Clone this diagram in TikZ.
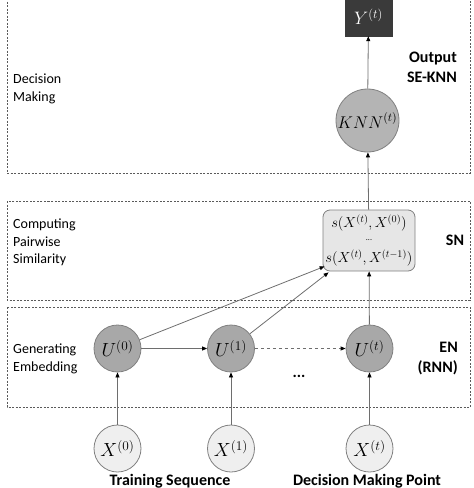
\RequirePackage{fix-cm}
\documentclass[tikz,border=0pt]{standalone}
\usepackage{fontspec}
\setmainfont{Carlito}
\usetikzlibrary{arrows.meta,calc}
\definecolor{linegray}{HTML}{6E6E6E}
\definecolor{boxgray}{HTML}{5A5A5A}
\definecolor{ufill}{HTML}{A8A8A8}
\definecolor{knnfill}{HTML}{B4B4B4}
\definecolor{xfill}{HTML}{EFEFEF}
\definecolor{snfill}{HTML}{E6E6E6}
\definecolor{ydark}{HTML}{3A3A3A}
\definecolor{circborder}{HTML}{808080}
\begin{document}
\begin{tikzpicture}[x=1pt,y=-1pt,
  layerbox/.style={draw=boxgray, line width=0.7pt, dash pattern=on 2pt off 1.5pt},
  unode/.style={circle, draw=circborder, line width=0.8pt, fill=ufill, minimum size=47pt, inner sep=0pt, font=\fontsize{19}{21}\selectfont},
  xnode/.style={circle, draw=circborder, line width=0.8pt, fill=xfill, minimum size=47pt, inner sep=0pt, font=\fontsize{19}{21}\selectfont},
  knnnode/.style={circle, draw=circborder, line width=0.8pt, fill=knnfill, minimum size=63pt, inner sep=0pt, font=\fontsize{17}{19}\selectfont},
  snnode/.style={rounded corners=7pt, draw=circborder, line width=0.8pt, fill=snfill, minimum width=92pt, minimum height=61pt, inner sep=0pt},
  sntext/.style={inner sep=0pt, font=\fontsize{14.5}{16}\selectfont},
  ynode/.style={draw=ydark, fill=ydark, text=white, minimum width=47pt, minimum height=38pt, inner sep=0pt, font=\fontsize{18}{20}\selectfont},
  sidelabel/.style={anchor=west, align=left, inner sep=0pt, font=\fontsize{14}{18}\selectfont, text=black},
  boldlabel/.style={inner sep=0pt, font=\fontsize{16}{20}\selectfont\bfseries},
  conn/.style={draw=linegray, line width=0.8pt, -{Triangle[length=5pt,width=4pt,fill=black,color=black]}},
]
\useasboundingbox (0,0) rectangle (474,488);
% layer boxes
\draw[layerbox] (7,-2) -- (7,173) -- (470,173) -- (470,-2);
\draw[layerbox] (7,201) rectangle (470,300);
\draw[layerbox] (7,307) rectangle (470,407);
% side labels
\node[sidelabel] (lab1) at (13,88.5) {Decision\\Making};
\node[sidelabel, font=\fontsize{14}{17.5}\selectfont] (lab2) at (13,242.5) {Computing\\Pairwise\\Similarity};
\node[sidelabel] (lab3) at (13,359) {Generating\\Embedding};
% right labels
\node[boldlabel, anchor=east, align=right] (out) at (457,67) {Output\\SE-KNN};
\node[boldlabel] (snl) at (455,240) {SN};
\node[boldlabel, anchor=east, align=right] (enl) at (458,359) {EN\\(RNN)};
% nodes
\node[ynode] (y) at (368.5,17) {$Y^{(t)}$};
\node[knnnode] (knn) at (367.5,120.5) {$KNN^{(t)}$};
\node[snnode] (sn) at (369,240.5) {};
\node[sntext] (sn1) at (369,223) {$s\bigl(X^{(t)},X^{(0)}\bigr)$};
\node[sntext, font=\fontsize{8}{8}\selectfont] (sndots) at (369,240) {...};
\node[sntext] (sn2) at (369,258) {$s\bigl(X^{(t)},X^{(t-1)}\bigr)$};
\node[unode] (u0) at (117.5,348.5) {$U^{(0)}$};
\node[unode] (u1) at (231,348.5) {$U^{(1)}$};
\node[unode] (ut) at (369.5,348.5) {$U^{(t)}$};
\node[xnode] (x0) at (117.5,448.5) {$X^{(0)}$};
\node[xnode] (x1) at (231,448.5) {$X^{(1)}$};
\node[xnode] (xt) at (369.5,448.5) {$X^{(t)}$};
\node[boldlabel] (dots) at (299,376) {...};
\node[boldlabel] (train) at (170,481) {Training Sequence};
\node[boldlabel] (dec) at (367,481) {Decision Making Point};
% connectors
\coordinate (sa) at ($(sn.south west)+(2,-5)$);
\coordinate (sb) at ($(sn.south west)+(6,1)$);
\draw[conn] (x0) -- (u0);
\draw[conn] (x1) -- (u1);
\draw[conn] (xt) -- (ut);
\draw[conn] (u0) -- (u1);
\draw[conn, dashed] (u1) -- (ut);
\draw[conn] (u0) -- (sa);
\draw[conn] (u1) -- (sb);
\draw[conn] (ut) -- (sn);
\draw[conn] (sn) -- (knn);
\draw[conn] (knn) -- (y);
\end{tikzpicture}
\end{document}
